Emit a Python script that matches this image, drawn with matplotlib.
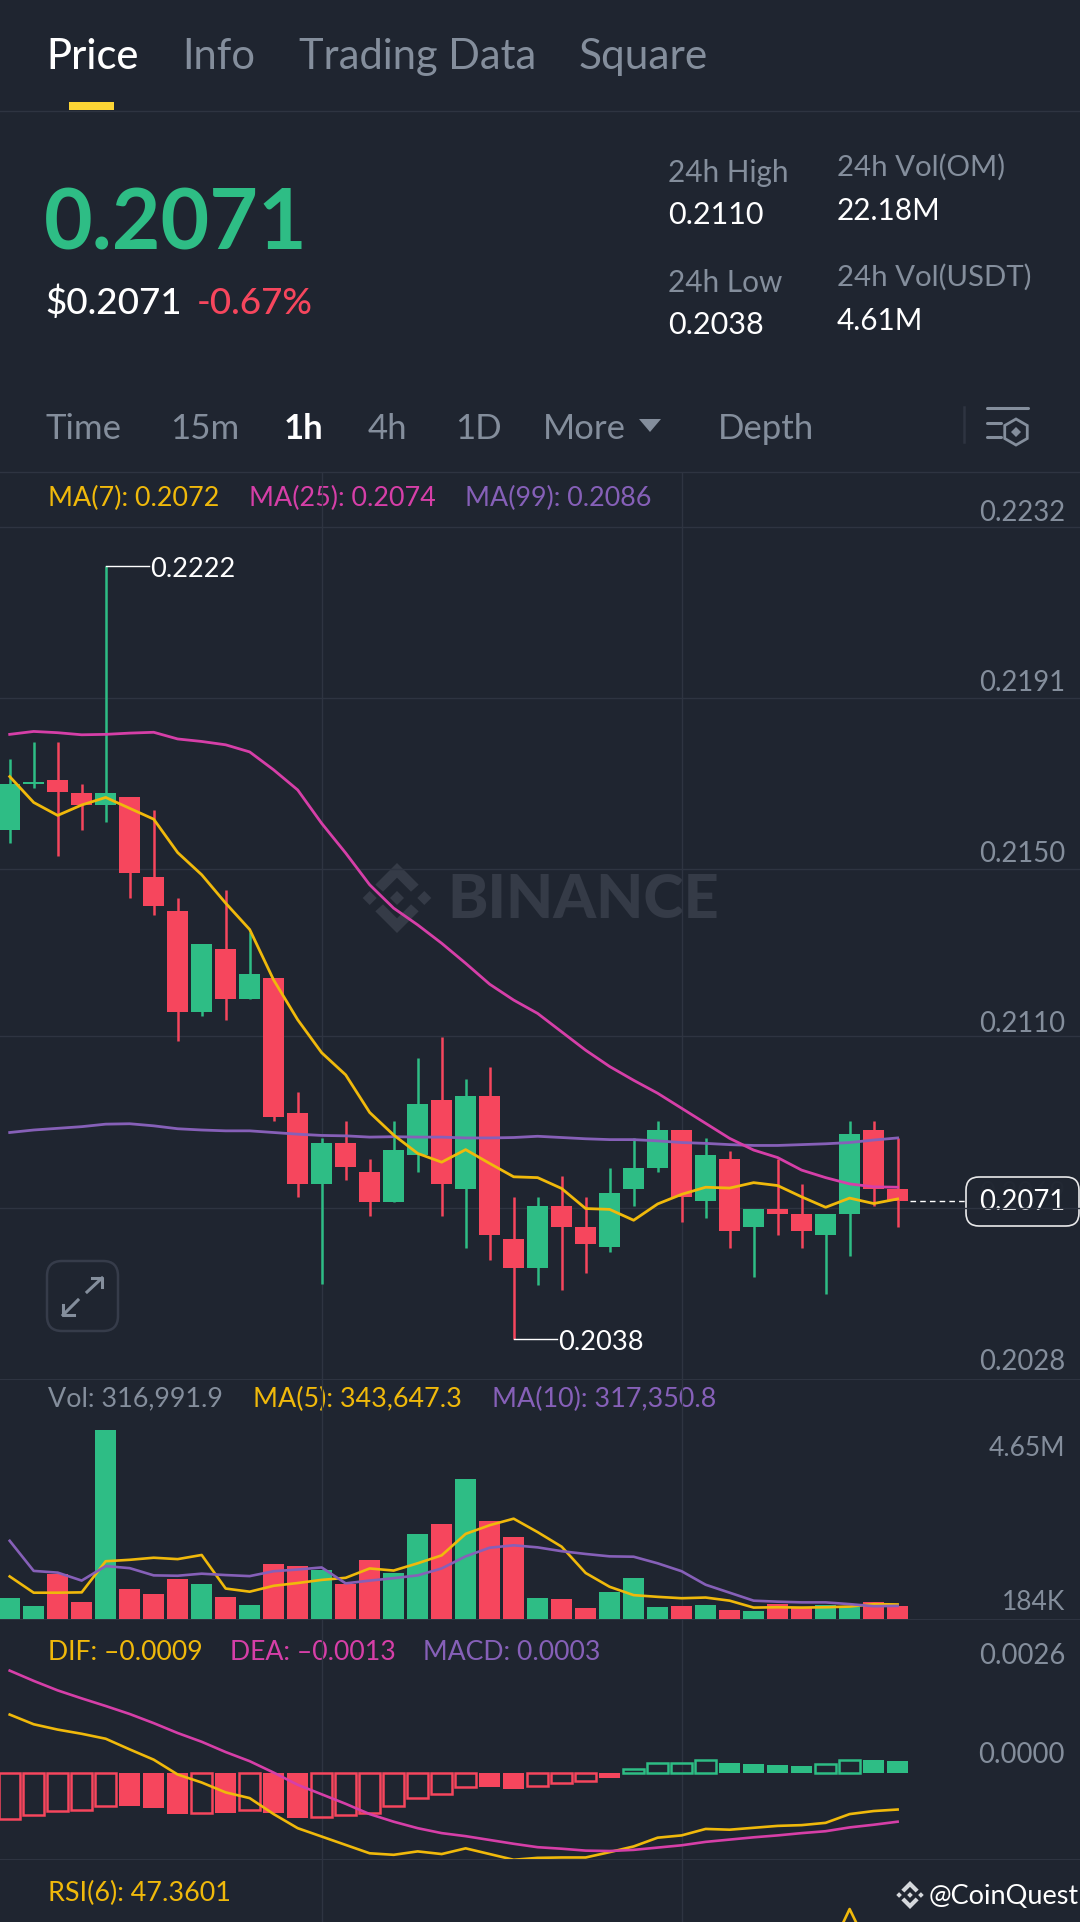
import matplotlib
matplotlib.use("Agg")
import matplotlib.pyplot as plt
from matplotlib.patches import FancyBboxPatch, Polygon, RegularPolygon, Rectangle

# candles, oldest first
is_green = [1,1,0,0,1,0,0,0,1,0,1,0,0,1,0,0,1,1,0,1,0,0,1,0,0,1,1,1,0,1,0,1,0,0,1,1,0,0]
highs = [.21763,.21804,.21804,.21703,.22225,.21673,.21642,.21431,.21321,.21451,.21351,.21240,.20967,.20856,.20897,.20806,.20897,.21048,.21098,.20998,.21028,.20716,.20716,.20766,.20716,.20786,.20856,.20897,.20877,.20856,.20826,.20686,.20806,.20746,.20675,.20897,.20897,.20857]
body_top = [.21703,.21710,.21713,.21683,.21683,.21673,.21482,.21401,.21321,.21310,.21250,.21240,.20917,.20846,.20846,.20776,.20827,.20938,.20948,.20958,.20958,.20615,.20695,.20695,.20644,.20726,.20786,.20877,.20877,.20816,.20806,.20686,.20686,.20675,.20675,.20866,.20877,.20735]
body_bot = [.21593,.21704,.21684,.21653,.21653,.21492,.21412,.21159,.21159,.21190,.21190,.20908,.20747,.20747,.20787,.20704,.20704,.20816,.20747,.20735,.20625,.20545,.20545,.20644,.20604,.20595,.20735,.20786,.20716,.20706,.20635,.20644,.20675,.20635,.20624,.20675,.20735,.20706]
lows = [.21562,.21694,.21533,.21593,.21613,.21432,.21391,.21089,.21150,.21139,.21190,.20897,.20716,.20507,.20756,.20669,.20704,.20776,.20669,.20594,.20565,.20375,.20504,.20494,.20534,.20585,.20695,.20775,.20655,.20665,.20594,.20525,.20624,.20594,.20484,.20574,.20695,.20644]

ma7 = [.21722,.21660,.21629,.21654,.21672,.21646,.21620,.21540,.21487,.21419,.21356,.21235,.21140,.21061,.21008,.20918,.20864,.20820,.20799,.20829,.20796,.20764,.20762,.20736,.20688,.20686,.20660,.20699,.20722,.20739,.20737,.20750,.20743,.20716,.20691,.20713,.20700,.20711]
ma25 = [.21823,.21830,.21827,.21822,.21823,.21826,.21828,.21812,.21806,.21798,.21781,.21738,.21690,.21610,.21539,.21463,.21407,.21367,.21323,.21275,.21225,.21187,.21155,.21111,.21067,.21028,.20995,.20964,.20928,.20892,.20856,.20828,.20810,.20780,.20762,.20747,.20740,.20739]
ma99 = [.20870,.20876,.20880,.20884,.20890,.20891,.20886,.20879,.20876,.20874,.20874,.20870,.20866,.20863,.20862,.20859,.20860,.20859,.20859,.20857,.20857,.20858,.20861,.20858,.20855,.20853,.20853,.20850,.20846,.20844,.20841,.20839,.20839,.20841,.20843,.20846,.20852,.20857]

# volume in thousands
vol_k = [528,332,1098,417,4648,741,604,987,860,553,349,1353,1294,1217,868,1447,1132,2094,2332,3447,2409,2017,528,502,264,664,1013,298,315,340,230,187,366,306,340,306,417,317]
vol_ma5 = [1047,647,647,655,1421,1456,1507,1473,1575,749,672,817,885,962,1013,1243,1192,1370,1566,2094,2307,2468,2137,1779,1132,792,587,545,511,528,451,281,289,281,289,306,366,358]
vol_ma10 = [1924,1183,1141,945,1302,1251,1073,1064,1115,1081,1055,1175,1217,1268,877,945,1004,1073,1243,1541,1753,1813,1762,1668,1600,1541,1532,1370,1175,843,647,451,426,409,409,366,315,323]

# macd
dif = [.001545,.00129,.00115,.00104,.00091,.00063,.00036,-.00003,-.00024,-.0005,-.00065,-.00107,-.00144,-.00166,-.00188,-.0021,-.00214,-.00205,-.00212,-.00197,-.00212,-.00227,-.00222,-.00221,-.00221,-.00207,-.00192,-.00169,-.00163,-.00146,-.00148,-.00143,-.00138,-.00136,-.0013,-.00107,-.00099,-.00095]
dea = [.0027,.00243,.00218,.00197,.00177,.00156,.00132,.00106,.00083,.00056,.00032,.00002,-.0003,-.00055,-.0008,-.00107,-.00127,-.00144,-.00157,-.00165,-.00175,-.00185,-.00194,-.00198,-.00203,-.00204,-.00201,-.00195,-.00189,-.0018,-.00174,-.00168,-.00163,-.00157,-.00152,-.00142,-.00135,-.00127]
macd = [-.00119,-.00109,-.001,-.00095,-.00085,-.00087,-.00092,-.00107,-.00105,-.00103,-.00096,-.00105,-.00118,-.00115,-.00109,-.00105,-.00086,-.00064,-.00055,-.00035,-.00036,-.0004,-.00034,-.00025,-.00021,-.00011,.00012,.00028,.00028,.00035,.00026,.00025,.00023,.0002,.00024,.00036,.00035,.00032]
macd_hollow = [1,1,1,1,1,0,0,0,1,0,1,0,0,1,1,1,1,1,1,1,0,0,1,1,1,0,1,1,1,1,0,0,0,0,1,1,0,0]

rsi_idx = [34,35,36,37]
rsi6 = [20.0,60.3,21.0,47.36]

price_grid = [.2232,.2191,.2150,.2110,.2069]

BG = "#1f2530"
GRID = "#2e3441"
GREEN = "#2ebd85"
RED = "#f6465d"
YELLOW = "#f0b90b"
PINK = "#d63fa8"
PURPLE = "#8660b8"
GRAY = "#848e9c"
FONT = "Lato"

W, H = 1080, 1922
plt.rcParams["font.family"] = FONT
fig = plt.figure(figsize=(W / 100, H / 100), dpi=100, facecolor=BG)

# pixel layer for the app chrome
ui = fig.add_axes([0, 0, 1, 1], zorder=0)
ui.set_xlim(0, W)
ui.set_ylim(H, 0)
ui.axis("off")


def label(x, y, s, size=19.4, color=GRAY, ha="left", weight="normal", **kw):
    ui.text(x, y + 3, s, fontsize=size, color=color, ha=ha, va="center", fontweight=weight, **kw)


def panel(top, bottom):
    ax = fig.add_axes([0, 1 - bottom / H, 1, (bottom - top) / H], zorder=2)
    ax.patch.set_alpha(0)
    ax.set_xlim(-0.404, 44.6)
    ax.set_xticks([13, 28])
    ax.grid(axis="x", color=GRID, lw=1)
    ax.tick_params(length=0, labelbottom=False, labelleft=False)
    for side in ["top", "left", "right"]:
        ax.spines[side].set_visible(False)
    ax.spines["bottom"].set_color(GRID)
    ax.set_axisbelow(True)
    return ax


def binance_logo(cx, cy, r, color):
    # centre + side diamonds and the two chevrons
    s = r * 0.2
    for dx, dy in [(0, 0), (-r * 0.78, 0), (r * 0.78, 0)]:
        ui.add_patch(Polygon([(cx + dx - s, cy + dy), (cx + dx, cy + dy - s), (cx + dx + s, cy + dy), (cx + dx, cy + dy + s)], color=color, lw=0))
    for sign in (-1, 1):
        t = [(cx - r * 0.62, cy + sign * r * 0.38), (cx, cy + sign * r), (cx + r * 0.62, cy + sign * r * 0.38),
             (cx + r * 0.4, cy + sign * r * 0.18), (cx, cy + sign * r * 0.58), (cx - r * 0.4, cy + sign * r * 0.18)]
        ui.add_patch(Polygon([(x, 2 * cy - y) for x, y in t], color=color, lw=0))


# header
ui.plot([0, W], [111, 111], color=GRID, lw=1)
label(46, 54, "Price", 30, "#ffffff", weight="medium")
label(182, 54, "Info", 30)
label(299, 54, "Trading Data", 30)
label(579, 54, "Square", 30.5)
ui.add_patch(Rectangle((69, 102), 45, 8, color="#fcd535", lw=0))

label(44, 222, "0.2071", 60.5, GREEN, weight="bold")
label(45, 300, "$0.2071", 26.5, "#ffffff", weight="medium")
label(197, 300, "-0.67%", 26.5, RED, weight="medium")
label(668, 170, "24h High", 21.4)
label(668, 212, "0.2110", 22, "#ffffff")
label(668, 280, "24h Low", 21.4)
label(668, 322, "0.2038", 22, "#ffffff")
label(837, 164, "24h Vol(OM)", 21.2)
label(837, 208, "22.18M", 21.4, "#ffffff")
label(837, 274, "24h Vol(USDT)", 21.2)
label(837, 318, "4.61M", 21.4, "#ffffff")

# interval row
for x, s in [(45, "Time"), (170, "15m"), (368, "4h"), (455, "1D"), (543, "More"), (718, "Depth")]:
    label(x, 426, s, 25)
label(284, 426, "1h", 25, "#ffffff", weight="bold")
ui.add_patch(Polygon([(639, 419), (661, 419), (650, 432)], color=GRAY, lw=0))
ui.plot([964, 964], [407, 442], color=GRID, lw=1.8)
for x0, x1, y in [(987, 1028, 408), (987, 1001, 423), (987, 1001, 437)]:
    ui.plot([x0, x1], [y, y], color=GRAY, lw=2.2, solid_capstyle="round")
ui.add_patch(RegularPolygon((1016, 432), 6, radius=13, fill=False, ec=GRAY, lw=2))
ui.add_patch(Polygon([(1011, 432), (1016, 427), (1021, 432), (1016, 437)], color=GRAY, lw=0))
ui.plot([0, W], [472, 472], color=GRID, lw=1)

# main chart
ax = panel(472, 1379)
ax.set_ylim(.2028, .22451)
ax.set_yticks(price_grid)
ax.grid(axis="y", color=GRID, lw=1)
for i in range(len(highs)):
    col = GREEN if is_green[i] else RED
    ax.vlines(i, lows[i], highs[i], color=col, lw=1.8, zorder=3)
    ax.bar(i, body_top[i] - body_bot[i], bottom=body_bot[i], width=0.875, color=col, lw=0, zorder=3)
idx = list(range(len(highs)))
ax.plot(idx, ma99, color=PURPLE, lw=2, zorder=4)
ax.plot(idx, ma25, color=PINK, lw=2, zorder=4)
ax.plot(idx, ma7, color=YELLOW, lw=2, zorder=4)
ax.plot([4, 5.8], [highs[4], highs[4]], color="#ffffff", lw=1, zorder=4)
ax.annotate("0.2222", (5.85, highs[4]), xytext=(0, -2), textcoords="offset points", color="#ffffff", fontsize=19.6, va="center")
ax.plot([21, 22.8], [lows[21], lows[21]], color="#ffffff", lw=1, zorder=4)
ax.annotate("0.2038", (22.85, lows[21]), xytext=(0, -2), textcoords="offset points", color="#ffffff", fontsize=19.6, va="center")
ax.plot([37.5, 39.8], [.20706, .20706], color="#ffffff", lw=1, ls=(0, (4, 3)), zorder=4)

label(48, 495, "MA(7): 0.2072", color=YELLOW)
label(249, 495, "MA(25): 0.2074", color=PINK)
label(465, 495, "MA(99): 0.2086", color=PURPLE)
for y, s in [(510, "0.2232"), (680, "0.2191"), (851, "0.2150"), (1021, "0.2110"), (1359, "0.2028")]:
    label(1065, y, s, 19.8, ha="right")
label(1065, 1191, "0.2069", 19.8, ha="right", alpha=0.3)

# watermark sits under the candles
binance_logo(397, 898, 35, "#353b47")
label(447, 897, "BINANCE", 44, "#353b47", weight="black")

# current price tag
ui.add_patch(FancyBboxPatch((966, 1177), 113, 49, boxstyle="round,pad=0,rounding_size=13", fc=BG, ec="#ffffff", lw=1.2, alpha=0.9, zorder=3))
ui.text(1022, 1202, "0.2071", color="#ffffff", fontsize=19.8, ha="center", va="center", zorder=4)

# expand button
ui.add_patch(FancyBboxPatch((47, 1261), 71, 70, boxstyle="round,pad=0,rounding_size=15", fc="none", ec="#363c4a", lw=1.8))
ui.plot([87, 102], [1292, 1278], color=GRAY, lw=2.2)
ui.plot([92, 102, 102], [1278, 1278, 1287], color=GRAY, lw=2.2)
ui.plot([78, 63], [1300, 1315], color=GRAY, lw=2.2)
ui.plot([63, 63, 74], [1305, 1315, 1315], color=GRAY, lw=2.2)

# volume
vax = panel(1379, 1619)
vax.set_ylim(0, 5904)
vax.bar(idx, vol_k, width=0.875, color=[GREEN if g else RED for g in is_green], lw=0, zorder=3)
vax.plot(idx, vol_ma5, color=YELLOW, lw=1.9, zorder=4)
vax.plot(idx, vol_ma10, color=PURPLE, lw=1.9, zorder=4)
label(48, 1396, "Vol: 316,991.9")
label(253, 1396, "MA(5): 343,647.3", color=YELLOW)
label(492, 1396, "MA(10): 317,350.8", color=PURPLE)
label(1065, 1446, "4.65M", 19, ha="right")
label(1065, 1599, "184K", 19, ha="right")

# macd
max_ = panel(1619, 1859)
max_.set_ylim(-.00225, .004056)
for i, v in enumerate(macd):
    col = GREEN if v > 0 else RED
    if macd_hollow[i]:
        max_.bar(i, v, width=0.875, facecolor="none", edgecolor=col, lw=1.8, zorder=3)
    else:
        max_.bar(i, v, width=0.875, color=col, lw=0, zorder=3)
max_.plot(idx, dif, color=YELLOW, lw=1.9, zorder=4)
max_.plot(idx, dea, color=PINK, lw=1.9, zorder=4)
label(48, 1650, "DIF: –0.0009", 19.2, color=YELLOW)
label(230, 1650, "DEA: –0.0013", 19.2, color=PINK)
label(423, 1650, "MACD: 0.0003", 19.2, color=PURPLE)
label(1065, 1653, "0.0026", 19.8, ha="right")
label(1065, 1752, "0.0000", 19.8, ha="right")

# rsi
rax = panel(1859, 1922)
rax.spines["bottom"].set_visible(False)
rax.set_ylim(50, 100)
rax.plot(rsi_idx, rsi6, color=YELLOW, lw=1.9, zorder=4)
label(48, 1890, "RSI(6): 47.3601", color=YELLOW)

# source tag
binance_logo(910, 1895, 14, "#d5d8dc")
label(929, 1893, "@CoinQuest", 19.5, "#ffffff")

fig.savefig("out.png", dpi=100, facecolor=BG)
